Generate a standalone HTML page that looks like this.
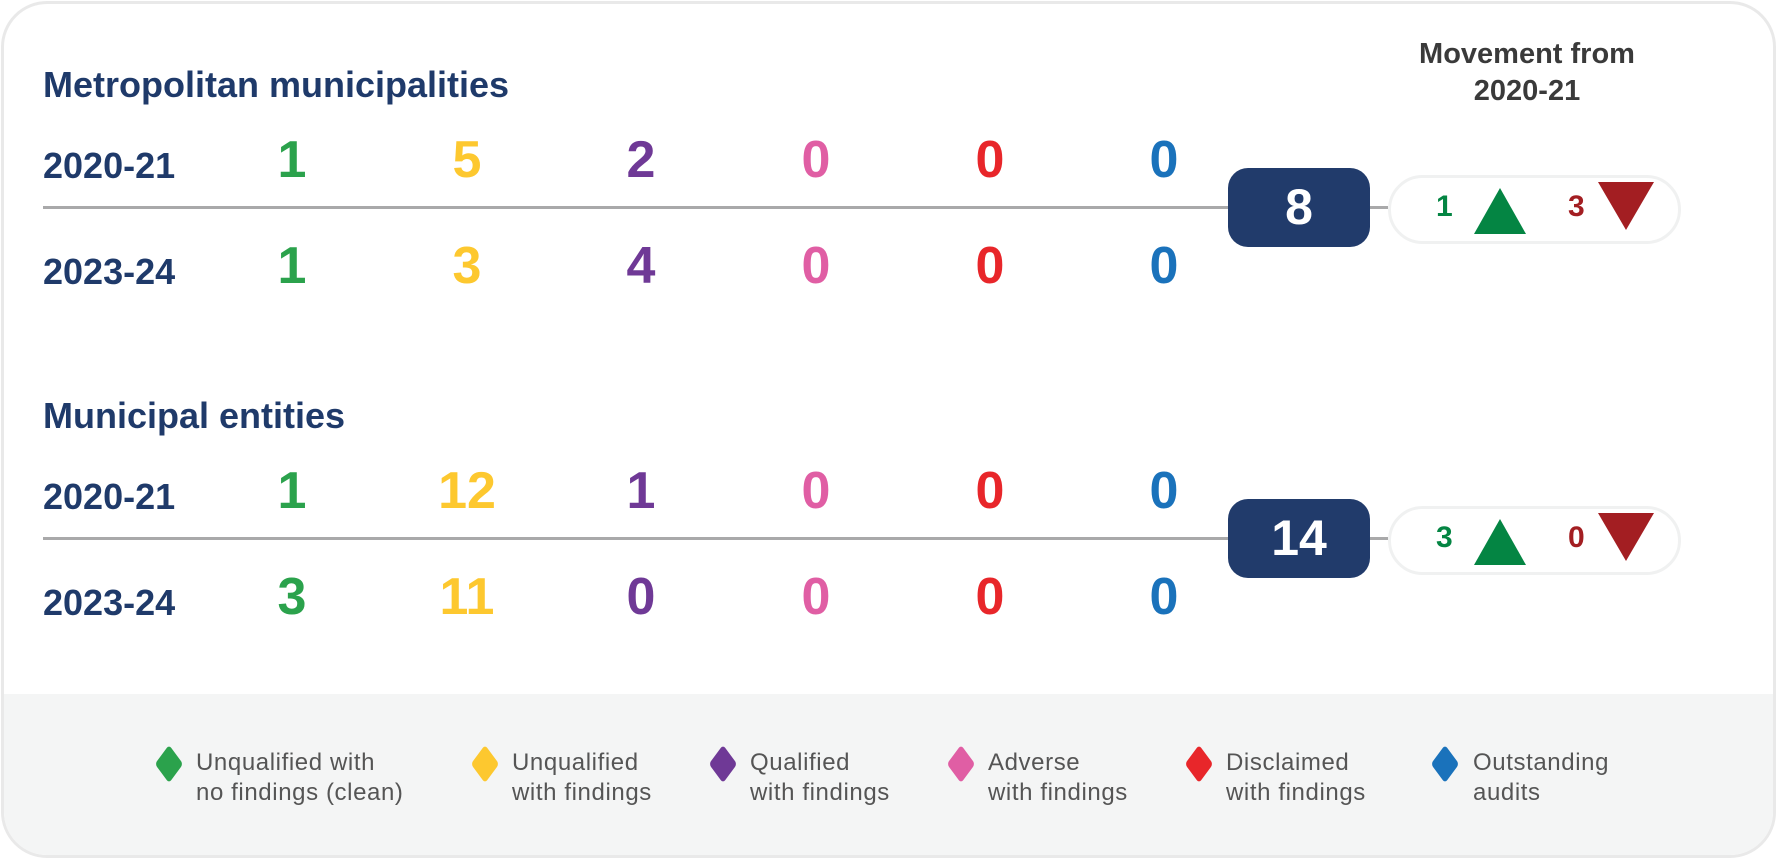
<!DOCTYPE html>
<html><head><meta charset="utf-8"><style>
body{margin:0;width:1776px;height:858px;background:#fff;font-family:"Liberation Sans",sans-serif;position:relative;overflow:hidden}
.frame{position:absolute;left:1px;top:1px;width:1769px;height:851px;border:3px solid #e9e9e9;border-radius:46px;overflow:hidden;background:#fff}
.leg{position:absolute;left:0;right:0;top:690px;bottom:0;background:#f4f5f5}
.a{position:absolute;white-space:nowrap}
.t{font-weight:bold;color:#1f3a6a;font-size:36px}
.y{font-weight:bold;color:#1f3a6a;font-size:36px}
.n{font-weight:bold;font-size:52px;transform:translateX(-50%);line-height:1}
.line{position:absolute;height:3px;background:#a9a9aa}
.box{position:absolute;background:#213b6b;border-radius:20px;color:#fff;font-weight:bold;font-size:50px;text-align:center}
.pill{position:absolute;border:3px solid #f0f1f1;border-radius:36px;background:#fff}
.up{position:absolute;width:0;height:0;border-left:26px solid transparent;border-right:26px solid transparent;border-bottom:46px solid #048543}
.dn{position:absolute;width:0;height:0;border-left:28px solid transparent;border-right:28px solid transparent;border-top:48px solid #a31e22}
.d{position:absolute;width:20px;height:20px;transform:scaleY(1.35) rotate(45deg);border-radius:3px}
.lt{position:absolute;font-size:24px;letter-spacing:0.6px;color:#555;line-height:30px}
</style></head><body>
<div class="frame">
<div class="leg"></div>
</div>
<div class="a" style="left:1527px;top:36px;transform:translateX(-50%);text-align:center;font-weight:bold;font-size:29px;color:#3a3a3a;line-height:37px">Movement from<br>2020-21</div>

<!-- section 1 -->
<div class="a t" style="left:43px;top:64px">Metropolitan municipalities</div>
<div class="a y" style="left:43px;top:145px">2020-21</div>
<div class="a y" style="left:43px;top:251px">2023-24</div>
<div class="line" style="left:43px;top:206px;width:1345px"></div>
<div class="a n" style="left:292px;top:134px;color:#2ba24c">1</div>
<div class="a n" style="left:467px;top:134px;color:#fdc82f">5</div>
<div class="a n" style="left:641px;top:134px;color:#6f3996">2</div>
<div class="a n" style="left:816px;top:134px;color:#e05ea4">0</div>
<div class="a n" style="left:990px;top:134px;color:#e8262a">0</div>
<div class="a n" style="left:1164px;top:134px;color:#1a72bb">0</div>
<div class="a n" style="left:292px;top:240px;color:#2ba24c">1</div>
<div class="a n" style="left:467px;top:240px;color:#fdc82f">3</div>
<div class="a n" style="left:641px;top:240px;color:#6f3996">4</div>
<div class="a n" style="left:816px;top:240px;color:#e05ea4">0</div>
<div class="a n" style="left:990px;top:240px;color:#e8262a">0</div>
<div class="a n" style="left:1164px;top:240px;color:#1a72bb">0</div>
<div class="box" style="left:1228px;top:168px;width:142px;height:79px;line-height:79px">8</div>
<div class="pill" style="left:1388px;top:175px;width:287px;height:63px"></div>
<div class="a" style="left:1436px;top:190px;font-size:30px;font-weight:bold;color:#048543">1</div>
<div class="up" style="left:1474px;top:188px"></div>
<div class="a" style="left:1568px;top:190px;font-size:30px;font-weight:bold;color:#a31e22">3</div>
<div class="dn" style="left:1598px;top:182px"></div>

<!-- section 2 -->
<div class="a t" style="left:43px;top:395px">Municipal entities</div>
<div class="a y" style="left:43px;top:476px">2020-21</div>
<div class="a y" style="left:43px;top:582px">2023-24</div>
<div class="line" style="left:43px;top:537px;width:1345px"></div>
<div class="a n" style="left:292px;top:465px;color:#2ba24c">1</div>
<div class="a n" style="left:467px;top:465px;color:#fdc82f">12</div>
<div class="a n" style="left:641px;top:465px;color:#6f3996">1</div>
<div class="a n" style="left:816px;top:465px;color:#e05ea4">0</div>
<div class="a n" style="left:990px;top:465px;color:#e8262a">0</div>
<div class="a n" style="left:1164px;top:465px;color:#1a72bb">0</div>
<div class="a n" style="left:292px;top:571px;color:#2ba24c">3</div>
<div class="a n" style="left:467px;top:571px;color:#fdc82f">11</div>
<div class="a n" style="left:641px;top:571px;color:#6f3996">0</div>
<div class="a n" style="left:816px;top:571px;color:#e05ea4">0</div>
<div class="a n" style="left:990px;top:571px;color:#e8262a">0</div>
<div class="a n" style="left:1164px;top:571px;color:#1a72bb">0</div>
<div class="box" style="left:1228px;top:499px;width:142px;height:79px;line-height:79px">14</div>
<div class="pill" style="left:1388px;top:506px;width:287px;height:63px"></div>
<div class="a" style="left:1436px;top:521px;font-size:30px;font-weight:bold;color:#048543">3</div>
<div class="up" style="left:1474px;top:519px"></div>
<div class="a" style="left:1568px;top:521px;font-size:30px;font-weight:bold;color:#a31e22">0</div>
<div class="dn" style="left:1598px;top:513px"></div>

<!-- legend -->
<div class="d" style="left:159px;top:754px;background:#2ba24c"></div>
<div class="lt" style="left:196px;top:748px">Unqualified with<br>no findings (clean)</div>
<div class="d" style="left:475px;top:754px;background:#fdc82f"></div>
<div class="lt" style="left:512px;top:748px">Unqualified<br>with findings</div>
<div class="d" style="left:713px;top:754px;background:#6f3996"></div>
<div class="lt" style="left:750px;top:748px">Qualified<br>with findings</div>
<div class="d" style="left:951px;top:754px;background:#e05ea4"></div>
<div class="lt" style="left:988px;top:748px">Adverse<br>with findings</div>
<div class="d" style="left:1189px;top:754px;background:#e8262a"></div>
<div class="lt" style="left:1226px;top:748px">Disclaimed<br>with findings</div>
<div class="d" style="left:1435px;top:754px;background:#1a72bb"></div>
<div class="lt" style="left:1473px;top:748px">Outstanding<br>audits</div>
</body></html>
